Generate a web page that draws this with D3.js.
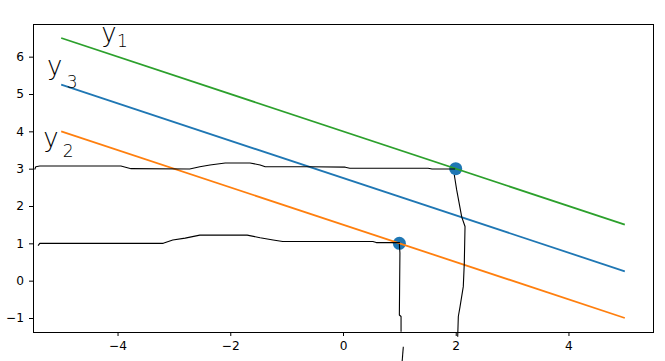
<!DOCTYPE html>
<html>
<head>
<meta charset="utf-8">
<script src="https://cdn.jsdelivr.net/npm/d3@7"></script>
<style>
body { margin: 0; background: #fff; }
text { font-family: "DejaVu Sans", sans-serif; }
</style>
</head>
<body>
<div id="chart"></div>
<script>
// line endpoints, x from -5 to 5
const xs = [-5, 5];
const y1 = [6.5, 1.5];   // green
const y3 = [5.25, 0.25]; // blue
const y2 = [4, -1];      // orange
// marked points
const ptsX = [2, 1];
const ptsY = [3, 1];
const xTicks = [-4, -2, 0, 2, 4];
const yTicks = [-1, 0, 1, 2, 3, 4, 5, 6];

// freehand ink strokes (data coords)
const inkUpper = [[-5.47,2.98],[-5.45,3.05],[-5.38,3.07],[-3.94,3.07],[-3.76,3.00],[-2.72,2.99],[-2.54,3.05],[-2.36,3.10],[-2.09,3.15],[-1.65,3.15],[-1.47,3.10],[-1.38,3.05],[-0.59,3.05],[0.04,3.04],[0.12,3.01],[1.51,3.01],[1.58,2.99],[1.99,2.99]];
const inkLower = [[-5.41,0.94],[-5.38,1.00],[-5.36,1.00],[-3.19,1.00],[-3.02,1.09],[-2.80,1.14],[-2.54,1.22],[-1.70,1.22],[-1.47,1.15],[-1.24,1.09],[-1.07,1.05],[0.53,1.05],[0.59,1.02],[1.01,1.02]];
const inkDownLeft = [[1.00,0.98],[1.01,0.74],[1.00,-0.92],[1.03,-0.96],[1.03,-1.37]];
const inkTail = [[1.07,-1.77],[1.05,-2.15]];
const inkDownRight = [[1.975,2.83],[2.017,2.43],[2.106,1.71],[2.165,1.45],[2.152,0.47],[2.134,-0.16],[2.076,-0.70],[2.046,-0.96],[2.035,-1.50]];
// handwritten labels: [letter, sub, x, y, subX, subY]
const labels = [
  ["y", "1", -4.29, 6.39, -4.01, 6.26],
  ["y", "3", -5.25, 5.51, -4.90, 5.16],
  ["y", "2", -5.32, 3.58, -4.97, 3.31]
];

const width = 665, height = 361;
const margin = {top: 24, right: 12, bottom: 29, left: 33};

const svg = d3.select("#chart").append("svg")
  .attr("width", width).attr("height", height);

const x = d3.scaleLinear().domain([-5.5, 5.5]).range([margin.left, width - margin.right]);
const y = d3.scaleLinear().domain([-1.375, 6.875]).range([height - margin.bottom, margin.top]);

// scatter first, lines over it
svg.append("g").selectAll("circle")
  .data(ptsX.map((d, i) => [d, ptsY[i]]))
  .enter().append("circle")
  .attr("cx", d => x(d[0]))
  .attr("cy", d => y(d[1]))
  .attr("r", 6.5)
  .attr("fill", "#1f77b4");

const line = d3.line().x(d => x(d[0])).y(d => y(d[1]));
const series = [[y3, "#1f77b4"], [y2, "#ff7f0e"], [y1, "#2ca02c"]];
series.forEach(([vals, col]) => {
  svg.append("path")
    .datum(xs.map((d, i) => [d, vals[i]]))
    .attr("d", line)
    .attr("fill", "none")
    .attr("stroke", col)
    .attr("stroke-width", 1.8);
});

// axes
const xAxis = g => g
  .attr("transform", `translate(0,${height - margin.bottom})`)
  .call(d3.axisBottom(x).tickValues(xTicks).tickSize(4).tickPadding(5).tickFormat(d3.format("")))
  .call(g => g.select(".domain").remove());
const yAxis = g => g
  .attr("transform", `translate(${margin.left},0)`)
  .call(d3.axisLeft(y).tickValues(yTicks).tickSize(4).tickPadding(5).tickFormat(d3.format("")))
  .call(g => g.select(".domain").remove());
svg.append("g").call(xAxis);
svg.append("g").call(yAxis);
svg.selectAll(".tick text").attr("font-size", 12.2).attr("font-family", "DejaVu Sans").attr("fill", "#000");
svg.selectAll(".tick line").attr("stroke", "#000");

svg.append("rect")
  .attr("x", margin.left + 0.5).attr("y", margin.top + 0.5)
  .attr("width", width - margin.left - margin.right)
  .attr("height", height - margin.top - margin.bottom)
  .attr("fill", "none").attr("stroke", "#000").attr("stroke-width", 1);

// ink
const ink = d3.line().x(d => x(d[0])).y(d => y(d[1]));
[inkUpper, inkLower, inkDownLeft, inkTail, inkDownRight].forEach(s => {
  svg.append("path").datum(s).attr("d", ink)
    .attr("fill", "none").attr("stroke", "#000").attr("stroke-width", 1.1)
    .attr("stroke-linejoin", "round");
});

labels.forEach(l => {
  svg.append("text").attr("x", x(l[2])).attr("y", y(l[3]))
    .attr("font-size", 26).attr("font-weight", 200).text(l[0]);
  svg.append("text").attr("x", x(l[4])).attr("y", y(l[5]))
    .attr("font-size", 17).attr("font-weight", 200).text(l[1]);
});
</script>
</body>
</html>
